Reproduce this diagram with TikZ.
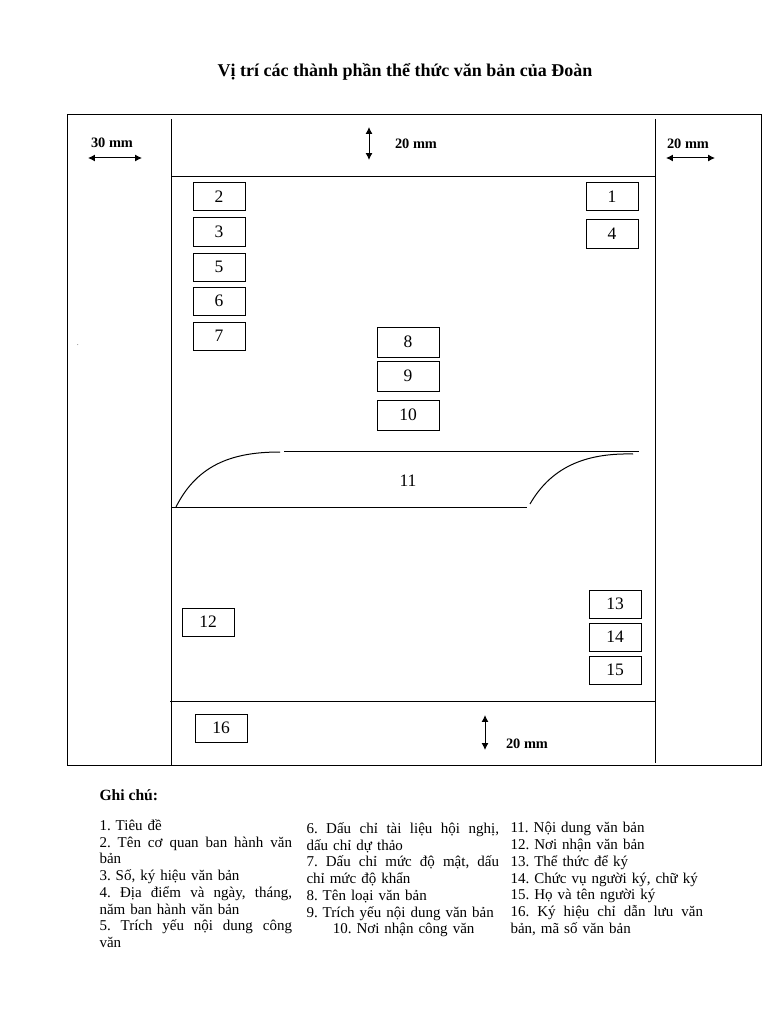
\documentclass[tikz,border=0pt]{standalone}
\usepackage{fontspec}
\setmainfont{Liberation Serif}
\usetikzlibrary{arrows,arrows.meta,positioning}
\tikzset{>={Latex[length=5.5pt,width=5.5pt]}}
\newcommand{\notefont}{\fontsize{12}{13.4}\selectfont\frenchspacing}
\tikzset{
  numbox/.style={draw, line width=0.8pt, minimum width=41.6pt, minimum height=22.4pt, inner sep=0pt, font=\fontsize{14}{16}\selectfont},
  widebox/.style={numbox, minimum width=49.6pt, minimum height=24pt},
  mmlabel/.style={font=\fontsize{11.5}{13}\selectfont\bfseries},
  notecol/.style={anchor=north west, inner sep=0pt, text width=154pt, align=left, font=\notefont}
}
\newcommand{\fullline}[1]{{\spaceskip=0.25em plus 1em minus 0.05em\relax\makebox[154pt][s]{#1}}}

\begin{document}
\begin{tikzpicture}[x=0.8pt,y=-0.8pt,line width=0.8pt]
  \useasboundingbox (0,0) rectangle (768,1024);

  % title
  \node[font=\fontsize{14.4}{16}\selectfont\bfseries] (title) at (405,72) {Vị trí các thành phần thể thức văn bản của Đoàn};

  % page and margins
  \draw (67,115) rectangle (761,765);
  \draw (171,119) -- (171,765);
  \draw (655,119) -- (655,763);
  \draw (171,177) -- (655,177);
  \draw (170,701) -- (656,701);

  % margin arrows
  \coordinate (lmA) at (88,158);  \coordinate (lmB) at (142,158);
  \coordinate (rmA) at (666,158); \coordinate (rmB) at (715,158);
  \coordinate (tmA) at (369,127); \coordinate (tmB) at (369,160);
  \coordinate (bmA) at (485,715); \coordinate (bmB) at (485,750);
  \draw[<->] (lmA) -- (lmB);
  \draw[<->] (rmA) -- (rmB);
  \draw[<->] (tmA) -- (tmB);
  \draw[<->] (bmA) -- (bmB);
  \node[mmlabel] (lm) at (112,143) {30 mm};
  \node[mmlabel] (rm) at (688,144) {20 mm};
  \node[mmlabel] (tm) at (416,144) {20 mm};
  \node[mmlabel] (bm) at (527,744) {20 mm};
  \node[font=\tiny] (dot) at (78,345) {.};

  % boxes
  \foreach \n/\y in {2/197,3/232,5/267,6/301,7/336}
    {
      \node[numbox] (b\n) at (219,\y) {\n};
    }
  \node[numbox] (b1) at (612,197) {1};
  \node[numbox] (b4) at (612,234) {4};
  \foreach \n/\y in {8/342,9/376,10/415}
    {
      \node[widebox] (b\n) at (408,\y) {\n};
    }
  \node[numbox] (b12) at (208,622) {12};
  \foreach \n/\y in {13/604,14/637,15/670}
    {
      \node[numbox] (b\n) at (615,\y) {\n};
    }
  \node[numbox] (b16) at (221,728) {16};

  % content block 11
  \draw (284,451) -- (639,451);
  \draw (172,507) -- (527,507);
  \draw (176,507) .. controls (198,463) and (235,452) .. (280,452);
  \draw (530,504) .. controls (553,464) and (590,453) .. (633,454);
  \node[font=\fontsize{14}{16}\selectfont] (b11) at (408,481) {11};

  % notes
  \node[anchor=west, inner sep=0pt, font=\fontsize{12.5}{14}\selectfont\bfseries] (ghichu) at (99,795) {Ghi chú:};
  \node[notecol] (col1) at (99,819) {1. Tiêu đề\\
    \fullline{2. Tên cơ quan ban hành văn}\\
    bản\\
    3. Số, ký hiệu văn bản\\
    \fullline{4. Địa điểm và ngày, tháng,}\\
    năm ban hành văn bản\\
    \fullline{5. Trích yếu nội dung công}\\
    văn};
  \node[notecol] (col2) at (306,822) {\fullline{6. Dấu chỉ tài liệu hội nghị,}\\
    dấu chỉ dự thảo\\
    \fullline{7. Dấu chỉ mức độ mật, dấu}\\
    chỉ mức độ khẩn\\
    8. Tên loại văn bản\\
    9. Trích yếu nội dung văn bản\\
    \hspace*{21pt}10. Nơi nhận công văn};
  \node[notecol] (col3) at (510,822) {11. Nội dung văn bản\\
    12. Nơi nhận văn bản\\
    13. Thể thức để ký\\
    14. Chức vụ người ký, chữ ký\\
    15. Họ và tên người ký\\
    \fullline{16. Ký hiệu chỉ dẫn lưu văn}\\
    bản, mã số văn bản};
\end{tikzpicture}
\end{document}
